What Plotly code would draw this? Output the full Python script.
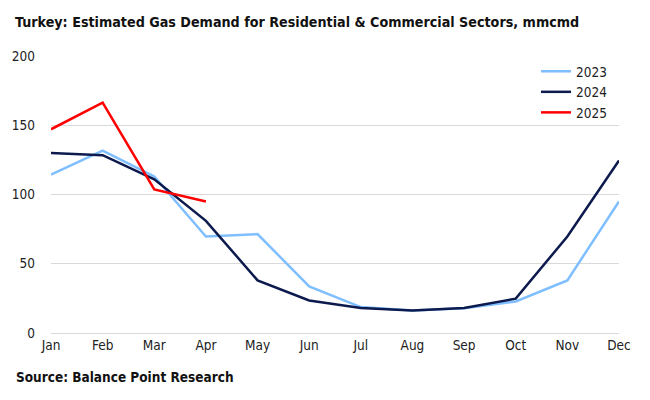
import plotly.graph_objects as go

months = ["Jan", "Feb", "Mar", "Apr", "May", "Jun", "Jul", "Aug", "Sep", "Oct", "Nov", "Dec"]
y2023 = [114.4, 131.7, 113, 69.7, 71.4, 33.7, 18.7, 16.3, 17.8, 22.8, 38, 95]
y2024 = [130, 128.4, 111, 81, 38, 23.5, 18, 16.3, 18, 24.8, 69.7, 124.5]
y2025 = [147.1, 166.3, 103.6, 95]
y_ticks = [0, 50, 100, 150, 200]

fig = go.Figure()
fig.add_trace(go.Scatter(x=months, y=y2023, name="2023", mode="lines",
                         line=dict(color="#7fbfff", width=2.5)))
fig.add_trace(go.Scatter(x=months, y=y2024, name="2024", mode="lines",
                         line=dict(color="#0c1a4e", width=2.5)))
fig.add_trace(go.Scatter(x=months[:len(y2025)], y=y2025, name="2025", mode="lines",
                         line=dict(color="#ff0000", width=2.5)))

font_family = "DejaVu Sans Condensed"

L, R, T, B = 51, 31, 56, 67
pw, ph = 650 - L - R, 400 - T - B


def px_x(px):
    return (px - L) / pw


def px_y(py):
    return (400 - B - py) / ph


fig.update_layout(
    width=650, height=400,
    margin=dict(l=L, r=R, t=T, b=B),
    paper_bgcolor="white", plot_bgcolor="white",
    font=dict(family=font_family, size=13.5, color="#222222"),
    showlegend=True,
    legend=dict(x=px_x(536), y=px_y(56), xanchor="left", yanchor="top",
                bgcolor="rgba(0,0,0,0)", font=dict(size=13.5, color="#222222"),
                tracegroupgap=0, itemwidth=30),
    annotations=[
        dict(text="<b>Turkey: Estimated Gas Demand for Residential & Commercial Sectors, mmcmd</b>",
             x=px_x(13), y=px_y(22), xref="paper", yref="paper", showarrow=False,
             xanchor="left", yanchor="middle", font=dict(size=14.2, color="#111111")),
        dict(text="<b>Source: Balance Point Research</b>",
             x=px_x(14), y=px_y(377), xref="paper", yref="paper", showarrow=False,
             xanchor="left", yanchor="middle",
             font=dict(size=13.5, color="#111111")),
    ],
)

fig.update_xaxes(type="category", range=[0, 11], showgrid=False,
                 showline=True, linecolor="#d9d9d9", linewidth=1,
                 ticks="", tickfont=dict(size=13.5, color="#222222"))
fig.update_yaxes(range=[0, 200], tickvals=y_ticks, showgrid=True,
                 gridcolor="#d9d9d9", gridwidth=1, zeroline=False,
                 showline=False, ticks="", ticklabelstandoff=15,
                 tickfont=dict(size=13.5, color="#222222"))

fig.write_html("out.html")
